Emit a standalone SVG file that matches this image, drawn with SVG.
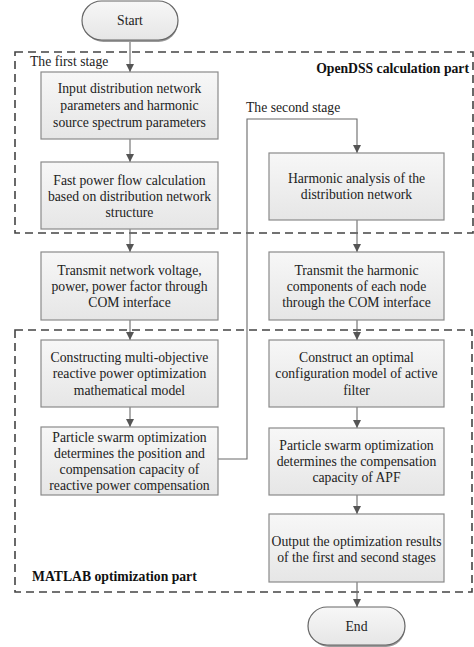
<svg xmlns="http://www.w3.org/2000/svg" width="474" height="647" viewBox="0 0 474 647" font-family="'Liberation Serif', 'DejaVu Serif', serif">
<defs>
<linearGradient id="g" x1="0" y1="0" x2="0" y2="1">
<stop offset="0" stop-color="#f7f7f7"/>
<stop offset="1" stop-color="#e6e6e6"/>
</linearGradient>
<marker id="ar" viewBox="0 0 10 10" refX="10" refY="5" markerWidth="8" markerHeight="10" markerUnits="userSpaceOnUse" orient="auto">
<path d="M0,0 L10,5 L0,10 Z" fill="#555"/>
</marker>
</defs>
<style>
.box{fill:url(#g);stroke:#8a8a8a;stroke-width:1.2}
.term{fill:url(#g);stroke:#666;stroke-width:1.2}
.sh{fill:#9a9a9a}
text{font-family:'Liberation Serif','DejaVu Serif',serif;font-size:13.7px}
.t{fill:#222;text-anchor:middle}
.l{fill:#222}
.b{font-weight:bold;fill:#111}
.dash{fill:none;stroke:#444;stroke-width:1.6;stroke-dasharray:8 5}
.c{fill:none;stroke:#6a6a6a;stroke-width:1.1}
</style>

<g id="regions">
<rect class="dash" x="15" y="52" width="458" height="181"/>
<rect class="dash" x="15" y="330" width="457" height="262"/>
<text class="l" x="30" y="66">The first stage</text>
<text class="b" x="469" y="73" text-anchor="end">OpenDSS calculation part</text>
<text class="l" x="246" y="112">The second stage</text>
<text class="b" x="32" y="581">MATLAB optimization part</text>
</g>

<g id="connectors">
<path class="c" d="M130,40 V72" marker-end="url(#ar)"/>
<path class="c" d="M130,139 V162" marker-end="url(#ar)"/>
<path class="c" d="M130,229 V252" marker-end="url(#ar)"/>
<path class="c" d="M130,320 V340" marker-end="url(#ar)"/>
<path class="c" d="M130,407 V427" marker-end="url(#ar)"/>
<path class="c" d="M218,459 H247 V119 H357 V153" marker-end="url(#ar)"/>
<path class="c" d="M357,220 V252" marker-end="url(#ar)"/>
<path class="c" d="M357,320 V340" marker-end="url(#ar)"/>
<path class="c" d="M357,407 V428" marker-end="url(#ar)"/>
<path class="c" d="M357,495 V514" marker-end="url(#ar)"/>
<path class="c" d="M357,582 V607" marker-end="url(#ar)"/>
</g>

<g id="start">
<rect class="sh" x="84" y="3" width="94" height="39" rx="19.5"/>
<rect class="term" x="82" y="1" width="96" height="39" rx="19.5"/>
<text class="t" x="130" y="25">Start</text>
</g>

<g id="input">
<rect class="box" x="41" y="72" width="177" height="67"/>
<text class="t" x="129.5" y="93">Input distribution network</text>
<text class="t" x="129.5" y="110">parameters and harmonic</text>
<text class="t" x="129.5" y="127">source spectrum parameters</text>
</g>

<g id="powerflow">
<rect class="box" x="41" y="162" width="177" height="67"/>
<text class="t" x="129.5" y="184.5">Fast power flow calculation</text>
<text class="t" x="129.5" y="200.5">based on distribution network</text>
<text class="t" x="129.5" y="216.5">structure</text>
</g>

<g id="harmonic">
<rect class="box" x="269" y="153" width="175" height="67"/>
<text class="t" x="356.5" y="182.5">Harmonic analysis of the</text>
<text class="t" x="356.5" y="198.5">distribution network</text>
</g>

<g id="transmit1">
<rect class="box" x="41" y="252" width="177" height="68"/>
<text class="t" x="129.5" y="274.5">Transmit network voltage,</text>
<text class="t" x="129.5" y="290.5">power, power factor through</text>
<text class="t" x="129.5" y="306.5">COM interface</text>
</g>

<g id="transmit2">
<rect class="box" x="269" y="252" width="175" height="68"/>
<text class="t" x="356.5" y="274.5">Transmit the harmonic</text>
<text class="t" x="356.5" y="290.5">components of each node</text>
<text class="t" x="356.5" y="306.5">through the COM interface</text>
</g>

<g id="construct1">
<rect class="box" x="41" y="340" width="177" height="67"/>
<text class="t" x="129.5" y="361.5">Constructing multi-objective</text>
<text class="t" x="129.5" y="378">reactive power optimization</text>
<text class="t" x="129.5" y="394.5">mathematical model</text>
</g>

<g id="construct2">
<rect class="box" x="269" y="340" width="175" height="67"/>
<text class="t" x="356.5" y="361.5">Construct an optimal</text>
<text class="t" x="356.5" y="378">configuration model of active</text>
<text class="t" x="356.5" y="394.5">filter</text>
</g>

<g id="pso1">
<rect class="box" x="41" y="427" width="177" height="68"/>
<text class="t" x="129.5" y="441.5">Particle swarm optimization</text>
<text class="t" x="129.5" y="457.5">determines the position and</text>
<text class="t" x="129.5" y="473.5">compensation capacity of</text>
<text class="t" x="129.5" y="489.5">reactive power compensation</text>
</g>

<g id="pso2">
<rect class="box" x="269" y="428" width="175" height="67"/>
<text class="t" x="356.5" y="449.5">Particle swarm optimization</text>
<text class="t" x="356.5" y="465.5">determines the compensation</text>
<text class="t" x="356.5" y="481.5">capacity of APF</text>
</g>

<g id="output">
<rect class="box" x="269" y="514" width="175" height="68"/>
<text class="t" x="356.5" y="545.5">Output the optimization results</text>
<text class="t" x="356.5" y="561.5">of the first and second stages</text>
</g>

<g id="end">
<rect class="sh" x="310" y="609" width="95" height="38" rx="19"/>
<rect class="term" x="308" y="607" width="97" height="38" rx="19"/>
<text class="t" x="356.5" y="631">End</text>
</g>
</svg>
